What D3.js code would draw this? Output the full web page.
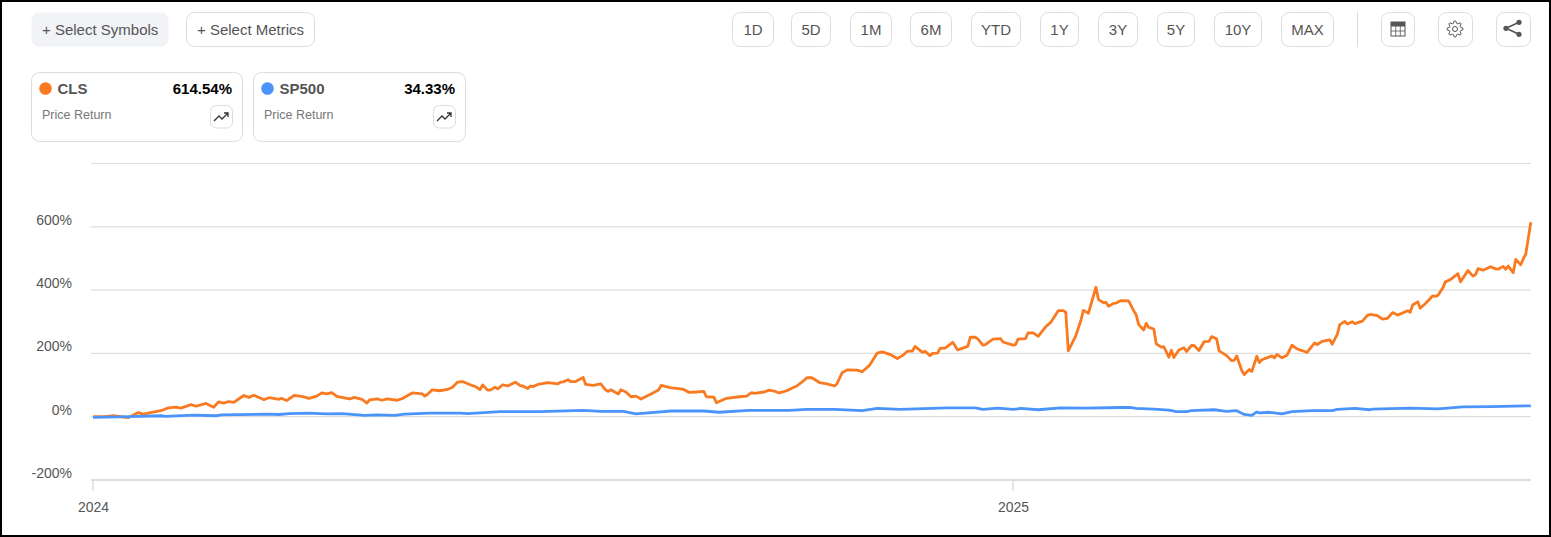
<!DOCTYPE html>
<html>
<head>
<meta charset="utf-8">
<script src="https://cdn.jsdelivr.net/npm/d3@7"></script>
<style>
  html, body { margin: 0; padding: 0; background: #fff; overflow: hidden; }
  svg { display: block; font-family: "Liberation Sans", Arial, sans-serif; }
</style>
</head>
<body>
<div class="svg-container"></div>
<script>
// days counted from 2024-01-01, then total return in %
const clsDays = [0,5,8,14,18,20,23,27,30,33,35,39,41,45,48,50,52,54,56,60,62,64,68,70,74,75,77,80,83,86,89,91,93,95,97,102,104,107,109,110,113,115,117,121,123,125,127,131,132,133,135,138,141,143,145,147,151,152,154,155,157,158,160,161,163,165,168,170,171,173,174,175,177,181,185,186,187,189,190,192,195,196,199,202,204,205,206,209,210,212,214,216,218,222,225,226,230,233,235,237,240,243,244,247,248,252,257,260,262,263,267,269,271,273,276,278,280,282,284,286,289,292,295,296,298,300,304,306,309,312,314,317,320,322,324,326,327,330,331,333,334,336,337,339,342,344,348,349,351,352,354,355,358,361,362,366,367,368,371,372,374,376,379,381,384,386,387,388,391,393,394,396,399,400,402,403,404,406,407,409,412,414,415,416,418,419,420,422,423,425,426,428,429,430,432,434,435,437,438,440,442,444,445,447,448,451,453,454,455,457,458,460,461,463,464,465,469,470,471,473,475,477,479,481,483,486,487,489,492,493,495,496,498,499,501,502,505,507,508,511,513,515,517,519,523,524,525,527,528,530,533,534,535,537,538,540,543,544,547,549,550,551,553,556,558,559,561,562,563,565,566,568,569,570,572];
const clsValues = [0,0,3,-3,13,8,13,19,28,30,27,38,33,42,30,47,43,48,45,67,61,68,54,60,55,58,51,67,64,58,65,75,72,76,64,56,61,55,43,53,56,52,56,52,57,66,75,72,65,70,85,82,86,93,109,111,98,96,86,100,84,84,93,88,101,97,109,98,97,89,97,95,102,108,104,109,110,117,111,111,124,102,99,104,84,80,85,72,85,78,63,65,56,72,84,99,91,89,86,77,78,80,63,62,44,58,63,65,76,74,78,84,81,75,82,90,97,109,123,123,108,104,97,104,139,148,147,142,163,201,205,197,184,193,207,207,222,203,207,193,200,201,216,217,235,211,222,251,251,246,226,228,245,247,236,226,228,245,247,265,265,254,284,298,335,335,330,208,256,304,336,327,409,370,360,361,349,358,359,367,366,335,322,291,274,295,282,277,230,220,221,188,210,187,211,218,206,225,225,209,237,238,253,246,208,193,177,178,192,146,133,149,143,191,171,180,192,186,197,186,194,226,214,209,203,233,228,238,243,229,260,291,301,293,300,294,302,320,323,319,308,311,329,321,335,330,353,363,343,357,382,380,383,407,426,433,452,426,462,444,449,468,463,474,467,466,475,466,476,455,497,480,499,514,614.54];
const spDays = [0,15,27,29,40,49,51,69,74,78,86,93,99,108,113,120,124,134,146,149,162,178,195,202,211,216,230,243,249,261,277,284,295,306,312,321,340,351,354,360,366,369,376,385,395,409,413,415,422,428,431,435,437,446,451,455,458,461,463,464,468,473,477,485,493,495,502,508,509,524,535,545,556,572];
const spValues = [-2,0,3,1,5,3,6,8,7,10,11,9,10,4,6,4,8,11,11,10,16,16,20,17,17,9,18,18,14,20,20,23,23,19,26,23,28,28,23,27,23,26,22,28,27,29,29,26,24,21,16,16,19,22,17,19,7,4,15,12,14,9,16,19,19,23,26,22,24,27,25,31,32,34.33];

const yTickValues = [-200, 0, 200, 400, 600, 800];
const yTickLabels = ['-200%', '0%', '200%', '400%', '600%', ''];
const xTickYears = [2024, 2025];
const rangeLabels = ['1D', '5D', '1M', '6M', 'YTD', '1Y', '3Y', '5Y', '10Y', 'MAX'];
const cardSymbols = ['CLS', 'SP500'];
const cardReturns = ['614.54%', '34.33%'];
const cardMetric = 'Price Return';

const width = 1551;
const height = 537;
const orange = '#f97a20';
const blue = '#4b94fb';
const borderColor = '#dcdcdc';
const textColor = '#555';

const svg = d3.select('.svg-container')
  .append('svg')
  .attr('width', width)
  .attr('height', height);

// outline of the screenshot
svg.append('rect')
  .attr('x', 1).attr('y', 1)
  .attr('width', width - 2).attr('height', height - 2)
  .attr('fill', '#fff')
  .attr('stroke', '#000')
  .attr('stroke-width', 2);

const day0 = new Date(2024, 0, 1);
const toDate = d => new Date(2024, 0, 1 + d);

const x = d3.scaleTime()
  .domain([day0, new Date(2025, 0, 1)])
  .range([93, 1013]);
const y = d3.scaleLinear()
  .domain([-200, 800])
  .range([480, 163.5]);

// gridlines
svg.append('g')
  .selectAll('line')
  .data(yTickValues)
  .enter()
  .append('line')
  .attr('x1', 91)
  .attr('x2', 1531)
  .attr('y1', d => y(d))
  .attr('y2', d => y(d))
  .attr('stroke', '#dedede')
  .attr('stroke-width', d => d === -200 ? 2 : 1.2);

svg.append('g')
  .selectAll('text')
  .data(yTickValues)
  .enter()
  .append('text')
  .attr('x', 72)
  .attr('y', d => y(d) - 2)
  .attr('text-anchor', 'end')
  .attr('font-size', 14)
  .attr('fill', textColor)
  .text((d, i) => yTickLabels[i]);

// x ticks
const xAxis = svg.append('g')
  .selectAll('g')
  .data(xTickYears)
  .enter()
  .append('g')
  .attr('transform', d => `translate(${x(new Date(d, 0, 1))},0)`);

xAxis.append('line')
  .attr('y1', 480)
  .attr('y2', 491)
  .attr('stroke', '#dedede')
  .attr('stroke-width', 1.5);

xAxis.append('text')
  .attr('x', 0.5)
  .attr('y', 512)
  .attr('text-anchor', 'middle')
  .attr('font-size', 14)
  .attr('fill', textColor)
  .text(d => d);

// series
const line = d3.line()
  .x(d => x(toDate(d.day)))
  .y(d => y(d.value));

const clsData = clsDays.map((d, i) => ({ day: d, value: clsValues[i] }));
const spData = spDays.map((d, i) => ({ day: d, value: spValues[i] }));

svg.append('path')
  .datum(clsData)
  .attr('d', line)
  .attr('fill', 'none')
  .attr('stroke', orange)
  .attr('stroke-width', 2.8)
  .attr('stroke-linejoin', 'round');

svg.append('path')
  .datum(spData)
  .attr('d', line)
  .attr('fill', 'none')
  .attr('stroke', blue)
  .attr('stroke-width', 2.8)
  .attr('stroke-linejoin', 'round');

// toolbar buttons
function button(x0, x1, y0, y1, fill, stroke) {
  return svg.append('rect')
    .attr('x', x0 + 0.5)
    .attr('y', y0 + 0.5)
    .attr('width', x1 - x0 - 1)
    .attr('height', y1 - y0 - 1)
    .attr('rx', 8)
    .attr('fill', fill)
    .attr('stroke', stroke);
}

function label(txt, px, py, size, color, anchor, weight) {
  return svg.append('text')
    .attr('x', px)
    .attr('y', py)
    .attr('font-size', size)
    .attr('fill', color)
    .attr('text-anchor', anchor || 'start')
    .attr('font-weight', weight || 'normal')
    .text(txt);
}

button(31, 169, 12, 47, '#f1f3f6', 'none');
label('+ Select Symbols', 42, 35, 15, textColor);
button(186, 315, 12, 47, '#fff', borderColor);
label('+ Select Metrics', 197, 35, 15, textColor);

const rangeEdges = [[732, 774], [791, 831], [850, 892], [910, 952], [971, 1021],
  [1040, 1079], [1098, 1138], [1157, 1195], [1214, 1262], [1281, 1334]];

rangeLabels.forEach((txt, i) => {
  const [x0, x1] = rangeEdges[i];
  button(x0, x1, 12, 47, '#fff', borderColor);
  label(txt, (x0 + x1) / 2, 34.5, 15, textColor, 'middle');
});

svg.append('line')
  .attr('x1', 1357.5).attr('x2', 1357.5)
  .attr('y1', 12).attr('y2', 47)
  .attr('stroke', borderColor);

// table icon
button(1381, 1415, 12, 47, '#fff', borderColor);
const table = svg.append('g').attr('transform', 'translate(1391,22)');
table.append('rect').attr('width', 14).attr('height', 14).attr('fill', '#fff').attr('stroke', '#555');
table.append('rect').attr('width', 14).attr('height', 4.5).attr('fill', '#555');
table.append('path')
  .attr('d', 'M0,9H14M4.7,4V14M9.3,4V14')
  .attr('stroke', '#555')
  .attr('fill', 'none')
  .attr('stroke-width', 0.8);

// gear icon
button(1438, 1473, 12, 47, '#fff', borderColor);
const gear = svg.append('g').attr('transform', 'translate(1455,29)');
const gearPoints = d3.range(32).map(i => {
  const r = i % 4 < 2 ? 8 : 5.8;
  const a = (i - 0.5) * Math.PI / 16;
  return [r * Math.cos(a), r * Math.sin(a)];
});
gear.append('path')
  .attr('d', d3.line().curve(d3.curveLinearClosed)(gearPoints))
  .attr('fill', 'none')
  .attr('stroke', '#555')
  .attr('stroke-width', 1);
gear.append('circle').attr('r', 2.5).attr('fill', 'none').attr('stroke', '#555');

// share icon
button(1496, 1531, 12, 47, '#fff', borderColor);
const share = svg.append('g').attr('transform', 'translate(1512.5,28.3)');
share.append('path')
  .attr('d', 'M6.5,-6L-6.5,0L6.5,6')
  .attr('fill', 'none')
  .attr('stroke', '#555')
  .attr('stroke-width', 1.6);
[[6.5, -6], [-6.5, 0], [6.5, 6]].forEach(p => {
  share.append('circle').attr('cx', p[0]).attr('cy', p[1]).attr('r', 2.6).attr('fill', '#555');
});

// legend cards
const cardEdges = [[31, 243], [253, 466]];
const cardColors = [orange, blue];

cardSymbols.forEach((sym, i) => {
  const [x0, x1] = cardEdges[i];
  button(x0, x1, 72, 142, '#fff', borderColor);
  svg.append('circle')
    .attr('cx', x0 + 14.5)
    .attr('cy', 88.5)
    .attr('r', 6.3)
    .attr('fill', cardColors[i]);
  label(sym, x0 + 26.5, 93.5, 15, textColor, 'start', 'bold');
  label(cardReturns[i], x1 - 11, 93.5, 15, '#000', 'end', 'bold');
  label(cardMetric, x0 + 11, 119, 12.5, '#777');

  const box = svg.append('g').attr('transform', `translate(${x1 - 33},105)`);
  box.append('rect')
    .attr('x', 0.5).attr('y', 0.5)
    .attr('width', 22).attr('height', 22.5)
    .attr('rx', 6)
    .attr('fill', '#fff')
    .attr('stroke', borderColor);
  box.append('path')
    .attr('d', 'M4,16L9,11L12,14L18,8M14,8H18V12')
    .attr('fill', 'none')
    .attr('stroke', '#333')
    .attr('stroke-width', 1.3);
});
</script>
</body>
</html>
